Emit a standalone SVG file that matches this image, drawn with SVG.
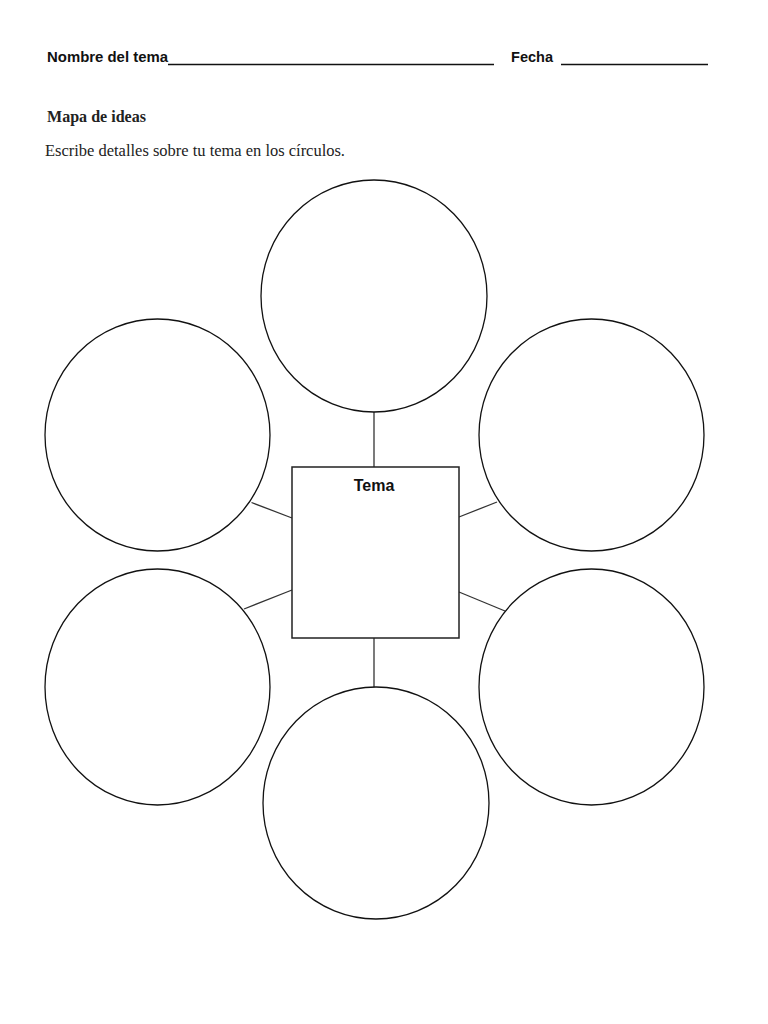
<svg xmlns="http://www.w3.org/2000/svg" width="768" height="1024" viewBox="0 0 768 1024">
<style>
.bg{fill:#fff}
.circ{fill:#fff;stroke:#111;stroke-width:1.3}
.box{fill:#fff;stroke:#222;stroke-width:1.5}
.conn line{stroke:#333;stroke-width:1.3}
.rule{stroke:#111;stroke-width:1.3}
.hdr{font-family:"Liberation Sans",Arial,sans-serif;font-weight:bold;font-size:15px;fill:#111}
.ser{font-family:"Liberation Serif","Times New Roman",serif;font-size:16px;fill:#222}
.tema{font-family:"Liberation Sans",Arial,sans-serif;font-weight:bold;font-size:16px;fill:#111}
</style>
<rect class="bg" x="0" y="0" width="768" height="1024"/>
<text class="hdr" x="47" y="62" textLength="121" lengthAdjust="spacingAndGlyphs">Nombre del tema</text>
<line class="rule" x1="168" y1="64.5" x2="494" y2="64.5"/>
<text class="hdr" x="511" y="62" textLength="42" lengthAdjust="spacingAndGlyphs">Fecha</text>
<line class="rule" x1="561" y1="64.5" x2="708" y2="64.5"/>
<text class="ser" x="47" y="122" font-weight="bold" textLength="99" lengthAdjust="spacingAndGlyphs">Mapa de ideas</text>
<text class="ser" x="45" y="156" textLength="300" lengthAdjust="spacingAndGlyphs">Escribe detalles sobre tu tema en los círculos.</text>
<g id="connectors" class="conn">
<line x1="374" y1="412" x2="374" y2="467"/>
<line x1="374" y1="638" x2="374" y2="687"/>
<line x1="251.5" y1="502.5" x2="292" y2="518"/>
<line x1="244" y1="609" x2="292" y2="590"/>
<line x1="459" y1="517" x2="497" y2="502"/>
<line x1="459" y1="592" x2="505" y2="611"/>
</g>
<g id="circle-top"><ellipse class="circ" cx="374" cy="296" rx="113" ry="116"/></g>
<g id="circle-left-top"><ellipse class="circ" cx="157.5" cy="435" rx="112.5" ry="116"/></g>
<g id="circle-right-top"><ellipse class="circ" cx="591.5" cy="435" rx="112.5" ry="116"/></g>
<g id="circle-left-bottom"><ellipse class="circ" cx="157.5" cy="687" rx="112.5" ry="118"/></g>
<g id="circle-right-bottom"><ellipse class="circ" cx="591.5" cy="687" rx="112.5" ry="118"/></g>
<g id="circle-bottom"><ellipse class="circ" cx="376" cy="803" rx="113" ry="116"/></g>
<g id="tema">
<rect class="box" x="292" y="467" width="167" height="171"/>
<text class="tema" x="374" y="491" text-anchor="middle">Tema</text>
</g>
</svg>
